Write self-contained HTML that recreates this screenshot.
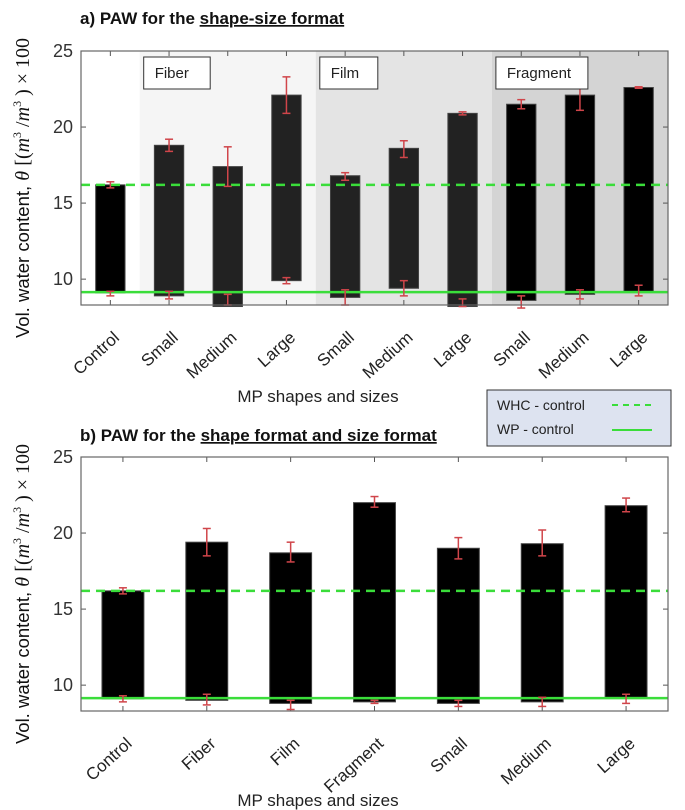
<!DOCTYPE html>
<html><head><meta charset="utf-8"><style>
html,body{margin:0;padding:0;background:#fff;}
svg{display:block;font-family:"Liberation Sans",sans-serif;}
</style></head><body>
<svg id="fig" width="685" height="810" viewBox="0 0 685 810"></svg>
<script>
// Chart a data
const catsA = ["Control","Small","Medium","Large","Small","Medium","Large","Small","Medium","Large"];
const topsA = [16.2,18.8,17.4,22.1,16.8,18.6,20.9,21.5,22.1,22.6];
const topHiA = [16.4,19.2,18.7,23.3,17.0,19.1,21.0,21.8,23.2,22.65];
const topLoA = [16.0,18.4,16.1,20.9,16.5,18.0,20.8,21.2,21.1,22.55];
const botsA = [9.1,8.9,8.2,9.9,8.8,9.4,8.2,8.6,9.0,9.2];
const botHiA = [9.2,9.2,9.0,10.1,9.3,9.9,8.7,8.9,9.3,9.6];
const botLoA = [8.9,8.7,8.3,9.7,8.3,8.9,8.2,8.1,8.7,8.9];
const groupsA = ["Fiber","Film","Fragment"];
// Chart b data
const catsB = ["Control","Fiber","Film","Fragment","Small","Medium","Large"];
const topsB = [16.2,19.4,18.7,22.0,19.0,19.3,21.8];
const topHiB = [16.4,20.3,19.4,22.4,19.7,20.2,22.3];
const topLoB = [16.0,18.5,18.1,21.7,18.3,18.5,21.4];
const botsB = [9.1,9.0,8.8,8.9,8.8,8.9,9.2];
const botHiB = [9.3,9.4,9.0,9.0,9.0,9.2,9.4];
const botLoB = [8.9,8.7,8.4,8.8,8.6,8.6,8.8];
const yTicks = [10,15,20,25];
const whc = 16.2, wp = 9.15;

const NS="http://www.w3.org/2000/svg";
const svg=document.getElementById('fig');
function mk(tag,attrs,parent,text){const e=document.createElementNS(NS,tag);for(const k in attrs)e.setAttribute(k,attrs[k]);if(text!==undefined)e.textContent=text;(parent||svg).appendChild(e);return e;}

function chart(o){
  const g=mk('g',{});
  
  
  const n=o.cats.length;
  const L=81,R=668,T=o.top,B=o.bottom;
  const yMin=o.yMin,yMax=25;
  const y=v=>B-(v-yMin)/(yMax-yMin)*(B-T);
  const step=(R-L)/n;
  const x=i=>L+step*(i+0.5);
  if(o.groups){
    const fills=["#f5f5f5","#e4e4e4","#d4d4d4"];
    o.groups.forEach((gn,k)=>{
      const r=mk('rect',{x:x(1+3*k)-step/2,y:T,width:step*3,height:B-T,fill:fills[k]},g);
      
      
    });
  }
  yTicks.forEach(t=>{
    mk('line',{x1:L,x2:L+5,y1:y(t),y2:y(t),stroke:"#555"},g);
    mk('line',{x1:R-5,x2:R,y1:y(t),y2:y(t),stroke:"#555"},g);
    const tl=mk('text',{x:L-8,y:y(t)+6,'text-anchor':'end','font-size':18,fill:'#333'},g,String(t));
    
    
  });
  o.cats.forEach((c,i)=>{
    mk('line',{x1:x(i),x2:x(i),y1:T,y2:T+5,stroke:"#555"},g);
    mk('line',{x1:x(i),x2:x(i),y1:B-5,y2:B,stroke:"#555"},g);
  });
  const bw=step*0.5;
  o.cats.forEach((c,i)=>{
    const fill=o.barColor(i);
    const r=mk('rect',{x:x(i)-bw/2,y:y(o.tops[i]),width:bw,height:y(o.bots[i])-y(o.tops[i]),fill:fill,stroke:'#444','stroke-width':1},g);
    
    
  });
  const wl=mk('line',{x1:L,x2:R,y1:y(whc),y2:y(whc),stroke:'#3add3a','stroke-width':2.5,'stroke-dasharray':'9,6'},g);
  
  
  const pl=mk('line',{x1:L,x2:R,y1:y(wp),y2:y(wp),stroke:'#3add3a','stroke-width':2.5},g);
  
  
  o.cats.forEach((c,i)=>{
    [[o.topHi[i],o.topLo[i]],[o.botHi[i],o.botLo[i]]].forEach(([hi,lo])=>{
      const eg=mk('g',{stroke:'#d0454a','stroke-width':1.5},g);
      
      
      mk('line',{x1:x(i),x2:x(i),y1:y(hi),y2:y(lo)},eg);
      mk('line',{x1:x(i)-4,x2:x(i)+4,y1:y(hi),y2:y(hi)},eg);
      mk('line',{x1:x(i)-4,x2:x(i)+4,y1:y(lo),y2:y(lo)},eg);
    });
  });
  mk('rect',{x:L,y:T,width:R-L,height:B-T,fill:'none',stroke:'#666','stroke-width':1.2},g);
  if(o.groups){
    o.groups.forEach((gn,k)=>{
      const bx=x(1+3*k)-step/2+4, w=gn.length*8.5+24;
      const gb=mk('g',{},g);
      
      
      mk('rect',{x:bx,y:T+6,width:w,height:32,fill:'#fff',stroke:'#333','stroke-width':1},gb);
      mk('text',{x:bx+11,y:T+27,'font-size':15,fill:'#222'},gb,gn);
    });
  }
  o.cats.forEach((c,i)=>{
    const ax=x(i)+10, ay=B+34;
    const t=mk('text',{x:ax,y:ay,'text-anchor':'end','font-size':17,fill:'#222',transform:`rotate(-42 ${ax} ${ay})`},g,c);
    
    
  });
  const xl=mk('text',{x:318,y:o.xTitleY,'text-anchor':'middle','font-size':17,fill:'#222'},g,'MP shapes and sizes');
  
  
  const yc=(T+B)/2+10;
  const yl=mk('text',{x:0,y:0,'text-anchor':'middle','font-size':18.5,fill:'#111',transform:`translate(29 ${yc}) rotate(-90)`},g);
  
  
  yl.innerHTML='Vol. water content, <tspan font-family="Liberation Serif" font-style="italic" font-size="20">θ</tspan> <tspan font-family="Liberation Serif" font-size="20">[(<tspan font-style="italic">m</tspan><tspan font-size="12" dy="-8">3</tspan><tspan dy="8"> /</tspan><tspan font-style="italic">m</tspan><tspan font-size="12" dy="-8">3</tspan><tspan dy="8"> ) × 100</tspan></tspan>';
  const tt=mk('text',{x:80,y:o.titleY,'font-size':17,'font-weight':'bold',fill:'#111'},g);
  
  
  tt.innerHTML=o.title[0]+'<tspan text-decoration="underline">'+o.title[1]+'</tspan>';
}

chart({name:'chart-a',cats:catsA,tops:topsA,topHi:topHiA,topLo:topLoA,bots:botsA,botHi:botHiA,botLo:botLoA,
  top:51,bottom:305,yMin:8.3,groups:groupsA,xTitleY:402,titleY:24,
  title:['a) PAW for the ','shape-size format'],
  barColor:i=>i===0||i>=7?'#000':'#222'});
chart({name:'chart-b',cats:catsB,tops:topsB,topHi:topHiB,topLo:topLoB,bots:botsB,botHi:botHiB,botLo:botLoB,
  top:457,bottom:711,yMin:8.3,groups:null,xTitleY:806,titleY:441,
  title:['b) PAW for the ','shape format and size format'],
  barColor:i=>'#000'});

const lg=mk('g',{});


mk('rect',{x:487,y:390,width:184,height:56,fill:'#dde3f0',stroke:'#333','stroke-width':1},lg);
const le1=mk('text',{x:497,y:410,'font-size':14,fill:'#222'},lg,'WHC - control');


mk('line',{x1:612,x2:652,y1:405,y2:405,stroke:'#3add3a','stroke-width':2,'stroke-dasharray':'6,5'},lg);
const le2=mk('text',{x:497,y:434,'font-size':14,fill:'#222'},lg,'WP - control');


mk('line',{x1:612,x2:652,y1:430,y2:430,stroke:'#3add3a','stroke-width':2},lg);
</script>
</body></html>
